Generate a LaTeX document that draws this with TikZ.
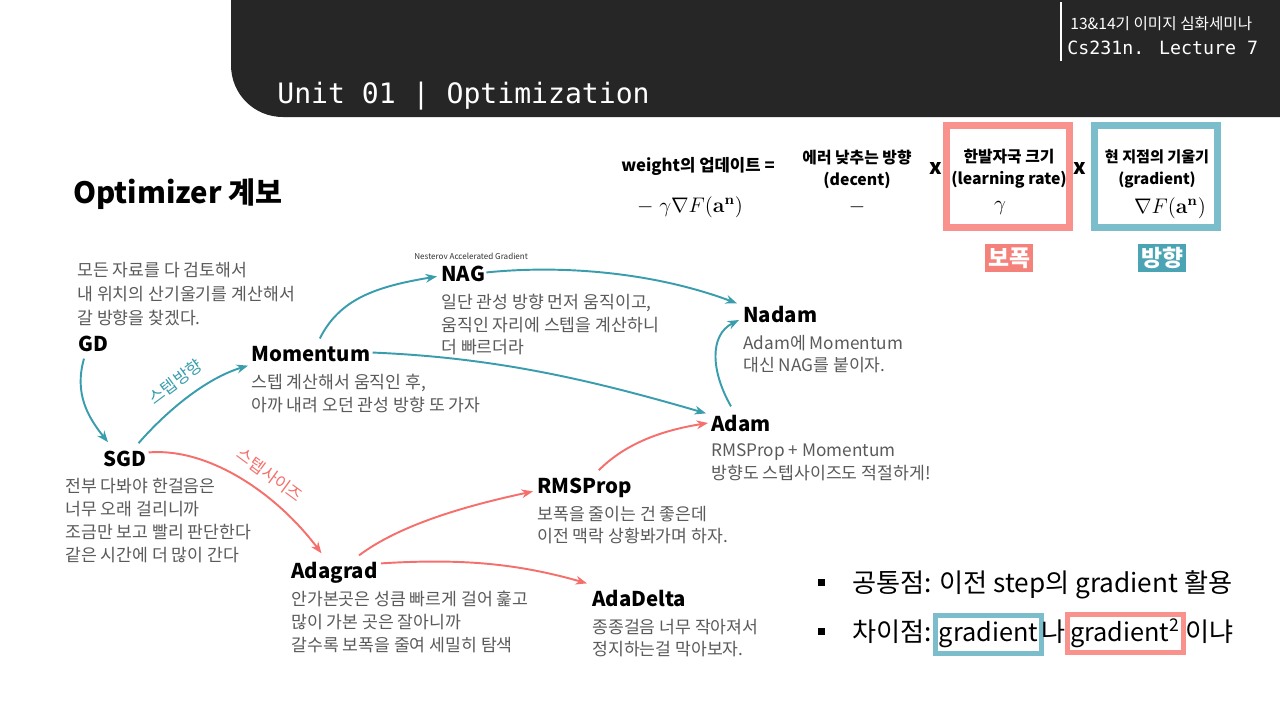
\documentclass[tikz,border=0pt]{standalone}
\usepackage[no-math]{fontspec}
\setmainfont{Noto Sans CJK KR}
\newfontfamily\monofont{DejaVu Sans Mono}
\usetikzlibrary{positioning,calc,arrows.meta}
\definecolor{hdrdark}{HTML}{262626}
\definecolor{descgray}{HTML}{5A5A5A}
\definecolor{arrteal}{HTML}{3A9DAE}
\definecolor{arrred}{HTML}{F5706C}
\definecolor{boxpink}{HTML}{F9928D}
\definecolor{boxteal}{HTML}{7BBDCA}
\definecolor{tagpink}{HTML}{F5817B}
\definecolor{tagteal}{HTML}{4AA4B4}

\tikzset{
  algname/.style={anchor=base west,inner sep=0pt,text=black,font=\bfseries\fontsize{11.6}{14}\selectfont},
  algdesc/.style={inner sep=0pt,align=left,text=descgray,font=\fontsize{9.8}{13}\selectfont},
  flowteal/.style={draw=arrteal,line width=1.1pt,-{Stealth[length=6.5pt,width=5pt]}},
  flowred/.style={draw=arrred,line width=1.1pt,-{Stealth[length=6.5pt,width=5pt]}},
  eqtext/.style={inner sep=0pt,align=center,font=\bfseries\fontsize{9}{12.5}\selectfont},
  eqmath/.style={inner sep=0pt,font=\fontsize{11.5}{14}\selectfont},
  tagbox/.style={inner sep=0pt,minimum width=0.96cm,minimum height=0.56cm,text=white,font=\bfseries\fontsize{13}{15}\selectfont},
  bullettext/.style={inner sep=0pt,font=\fontsize{14.9}{17}\selectfont},
  gradbox/.style={inner sep=0pt,font=\fontsize{14.4}{17}\selectfont,draw,line width=2.85pt,inner xsep=1.8pt,inner ysep=0pt,minimum height=0.76cm,outer sep=0pt}
}

\begin{document}
\begin{tikzpicture}[x=0.02cm,y=-0.02cm]
  \useasboundingbox (0,0) rectangle (1280,720);
  \fill[white] (0,0) rectangle (1280,720);

  \fill[hdrdark] (231,0) -- (231,65) .. controls (231,94) and (254,117) .. (283,117) -- (1280,117) -- (1280,0) -- cycle;
  \draw[white,line width=1.5pt] (1061,2) -- (1061,61);
  \node[anchor=west,inner sep=0pt,text=white,font=\fontsize{8.9}{10}\selectfont] (semi) at (1070,24) {13\&14기 이미지 심화세미나};
  \node[anchor=west,inner sep=0pt,text=white,font=\monofont\fontsize{10.4}{12}\selectfont] (lect) at (1067,48) {Cs231n. Lecture 7};
  \node[anchor=west,inner sep=0pt,text=white,font=\monofont\fontsize{16}{19}\selectfont] (unit) at (277,96) {Unit 01 | Optimization};

  \node[anchor=base west,inner sep=0pt,font=\bfseries\fontsize{16.7}{20}\selectfont] (title) at (73,203) {Optimizer 계보};

  \node[eqtext,font=\bfseries\fontsize{9.5}{12}\selectfont] (wupd) at (698,166) {weight의 업데이트 =};
  \node[eqmath] (wmath) at (690,207) {$-\;\gamma\nabla F(\mathbf{a}^{\mathbf{n}})$};
  \node[eqtext] (dec) at (857,169) {에러 낮추는 방향\\(decent)};
  \node[eqmath] (decm) at (857,207) {$-$};
  \node[eqtext,font=\bfseries\fontsize{12}{14}\selectfont] (times1) at (936,168) {x};
  \node[eqtext] (lr) at (1009,169) {한발자국 크기\\(learning rate)};
  \node[eqmath] (lrm) at (1000,208) {$\gamma$};
  \node[eqtext,font=\bfseries\fontsize{12}{14}\selectfont] (times2) at (1080,168) {x};
  \node[eqtext,font=\bfseries\fontsize{8.6}{12.5}\selectfont] (grd) at (1157,169) {현 지점의 기울기\\(gradient)};
  \node[eqmath] (grdm) at (1170,208) {$\nabla F(\mathbf{a}^{\mathbf{n}})$};
  \draw[boxpink,line width=4pt] (946.5,125.5) rectangle (1069.5,227.5);
  \draw[boxteal,line width=4pt] (1094.5,125.5) rectangle (1217.5,227.5);
  \node[tagbox,fill=tagpink] (bopok) at (1009,258) {보폭};
  \node[tagbox,fill=tagteal] (banghyang) at (1162,258) {방향};

  \node[algname] (gd) at (78,351) {GD};
  \node[algdesc,anchor=north west,font=\fontsize{9.8}{13.6}\selectfont] (gddesc) at (77,262) {모든 자료를 다 검토해서\\내 위치의 산기울기를 계산해서\\갈 방향을 찾겠다.};
  \node[algname] (sgd) at (103,466) {SGD};
  \node[algdesc,anchor=north west] (sgddesc) at (65,478) {전부 다봐야 한걸음은\\너무 오래 걸리니까\\조금만 보고 빨리 판단한다\\같은 시간에 더 많이 간다};
  \node[algname] (mom) at (251,361) {Momentum};
  \node[algdesc,below=0.25cm of mom.base west,anchor=north west] (momdesc) {스텝 계산해서 움직인 후,\\아까 내려 오던 관성 방향 또 가자};
  \node[algname] (nag) at (441,281) {NAG};
  \node[anchor=west,inner sep=0pt,text=black!80,font=\fontsize{4.6}{5}\selectfont] (nagfull) at (414,256) {Nesterov Accelerated Gradient};
  \node[algdesc,below=0.25cm of nag.base west,anchor=north west] (nagdesc) {일단 관성 방향 먼저 움직이고,\\움직인 자리에 스텝을 계산하니\\더 빠르더라};
  \node[algname] (nadam) at (743,322) {Nadam};
  \node[algdesc,below=0.25cm of nadam.base west,anchor=north west] (nadamdesc) {Adam에 Momentum\\대신 NAG를 붙이자.};
  \node[algname] (adam) at (711,431) {Adam};
  \node[algdesc,below=0.25cm of adam.base west,anchor=north west] (adamdesc) {RMSProp + Momentum\\방향도 스텝사이즈도 적절하게!};
  \node[algname] (rms) at (537,493) {RMSProp};
  \node[algdesc,below=0.25cm of rms.base west,anchor=north west] (rmsdesc) {보폭을 줄이는 건 좋은데\\이전 맥락 상황봐가며 하자.};
  \node[algname] (adagrad) at (291,578) {Adagrad};
  \node[algdesc,below=0.25cm of adagrad.base west,anchor=north west] (adagraddesc) {안가본곳은 성큼 빠르게 걸어 훑고\\많이 가본 곳은 잘아니까\\갈수록 보폭을 줄여 세밀히 탐색};
  \node[algname] (adadelta) at (592,606) {AdaDelta};
  \node[algdesc,below=0.25cm of adadelta.base west,anchor=north west] (adadeltadesc) {종종걸음 너무 작아져서\\정지하는걸 막아보자.};

  \draw[flowteal] ($(gd.south west)+(6,7)$) .. controls +(-10,35) and +(-20,-25) .. ($(sgd.north west)+(5,-8)$);
  \draw[flowteal] ($(sgd.north east)+(-8,-7)$) .. controls +(27,-31) and +(-43,13) .. ($(mom.south west)+(-3,4)$)
    node[pos=0.5,sloped,above=3pt,text=arrteal,font=\fontsize{9.5}{11}\selectfont] (lblstep) {스텝방향};
  \draw[flowteal] ($(mom.north)+(9,-7)$) .. controls +(20,-40) and +(-60,10) .. ($(nag.west)+(-4,3)$);
  \draw[flowteal] ($(nag.east)+(1,-1)$) .. controls +(80,-8) and +(-80,-30) .. ($(nadam.north west)+(-6,-2)$);
  \draw[flowteal] ($(mom.east)+(2,-1)$) .. controls +(120,5) and +(-120,-35) .. ($(adam.north west)+(-5,-1)$);
  \draw[flowteal] ($(adam.north)+(-10,-8)$) .. controls +(-20,-35) and +(-30,15) .. ($(nadam.west)+(-4,6)$);
  \draw[flowred] ($(sgd.east)+(2,-6)$) .. controls +(60,-5) and +(-45,-60) .. ($(adagrad.north)+(-13,-8)$)
    node[pos=0.6,sloped,above=3pt,text=arrred,font=\fontsize{9.5}{11}\selectfont] (lblsize) {스텝사이즈};
  \draw[flowred] ($(adagrad.north east)+(-19,-6)$) .. controls +(40,-30) and +(-70,15) .. ($(rms.west)+(-4,4)$);
  \draw[flowred] ($(adagrad.north east)+(3,2)$) .. controls +(80,-5) and +(-70,-20) .. ($(adadelta.north west)+(-5,-6)$);
  \draw[flowred] ($(rms.north)+(14,-7)$) .. controls +(25,-25) and +(-50,8) .. ($(adam.west)+(-3,0)$);

  \fill (818,579) rectangle (825,586);
  \fill (818,628) rectangle (825,635);
  \node[bullettext,anchor=base west] (common) at (852,592) {공통점: 이전 step의 gradient 활용};
  \node[bullettext,anchor=base west] (diff) at (852,641) {차이점:};
  \node[gradbox,draw=boxteal,base right=2pt of diff] (gradone) {gradient};
  \node[bullettext,base right=0pt of gradone] (na) {나};
  \node[gradbox,draw=boxpink,base right=0.5pt of na] (gradtwo) {gradient\textsuperscript{2}};
  \node[bullettext,base right=1pt of gradtwo] (ina) {이냐};
\end{tikzpicture}
\end{document}
